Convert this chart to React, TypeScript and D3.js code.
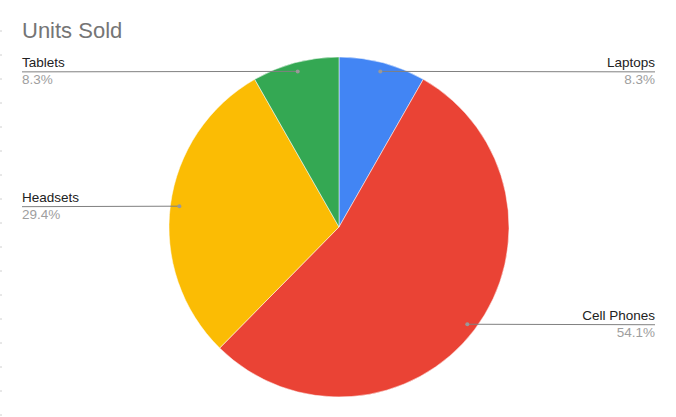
import React from 'react'
import * as d3 from 'd3'

const categories = ['Laptops', 'Cell Phones', 'Headsets', 'Tablets']
const unitsSold = [9, 59, 32, 9]
const sliceColors = ['#4285F4', '#EA4335', '#FBBC04', '#34A853']

const W = 676
const H = 417
const FONT = 'Arial, "Liberation Sans", sans-serif'

export default function App() {
    const cx = 339
    const cy = 227
    const radius = 170
    const dotRadius = 161

    const total = d3.sum(unitsSold)
    const fmt = d3.format('.1%')
    const arcs = d3.pie<number>().sort(null).value((d) => d)(unitsSold)
    const arcGen = d3.arc<d3.PieArcDatum<number>>().innerRadius(0).outerRadius(radius)

    // faint row marks along the left edge (sheet gridline stubs)
    const rowMarks = d3.range(31, H, 24)

    return (
        <svg
            width={W}
            height={H}
            style={{position: 'absolute', left: 0, top: 0, background: '#fff'}}
        >
            {rowMarks.map((y) => (
                <line key={y} x1={0} x2={2} y1={y} y2={y} stroke="#d0d0d0" strokeWidth={1}/>
            ))}
            <text x={22} y={38} fontFamily={FONT} fontSize={22} fill="#757575">Units Sold</text>
            <g transform={`translate(${cx},${cy})`}>
                {arcs.map((a, i) => (
                    <path key={categories[i]} d={arcGen(a) || ''} fill={sliceColors[i]}
                          stroke="#fff" strokeWidth={0.5}/>
                ))}
            </g>
            {arcs.map((a, i) => {
                const mid = (a.startAngle + a.endAngle) / 2
                const dx = cx + Math.sin(mid) * dotRadius
                const dy = cy - Math.cos(mid) * dotRadius
                const right = mid < Math.PI
                const lx = right ? 655 : 22
                const anchor = right ? 'end' : 'start'
                return (
                    <g key={categories[i]}>
                        <line x1={dx} y1={dy} x2={lx} y2={dy + 0.5} stroke="#808080" strokeWidth={1}/>
                        <circle cx={dx} cy={dy} r={2} fill="#999"/>
                        <text x={lx} y={dy - 4} textAnchor={anchor} fontFamily={FONT} fontSize={13.5}
                              fill="#222">{categories[i]}</text>
                        <text x={lx} y={dy + 13} textAnchor={anchor} fontFamily={FONT} fontSize={13.5}
                              fill="#9e9e9e">{fmt(unitsSold[i] / total)}</text>
                    </g>
                )
            })}
        </svg>
    )
}
